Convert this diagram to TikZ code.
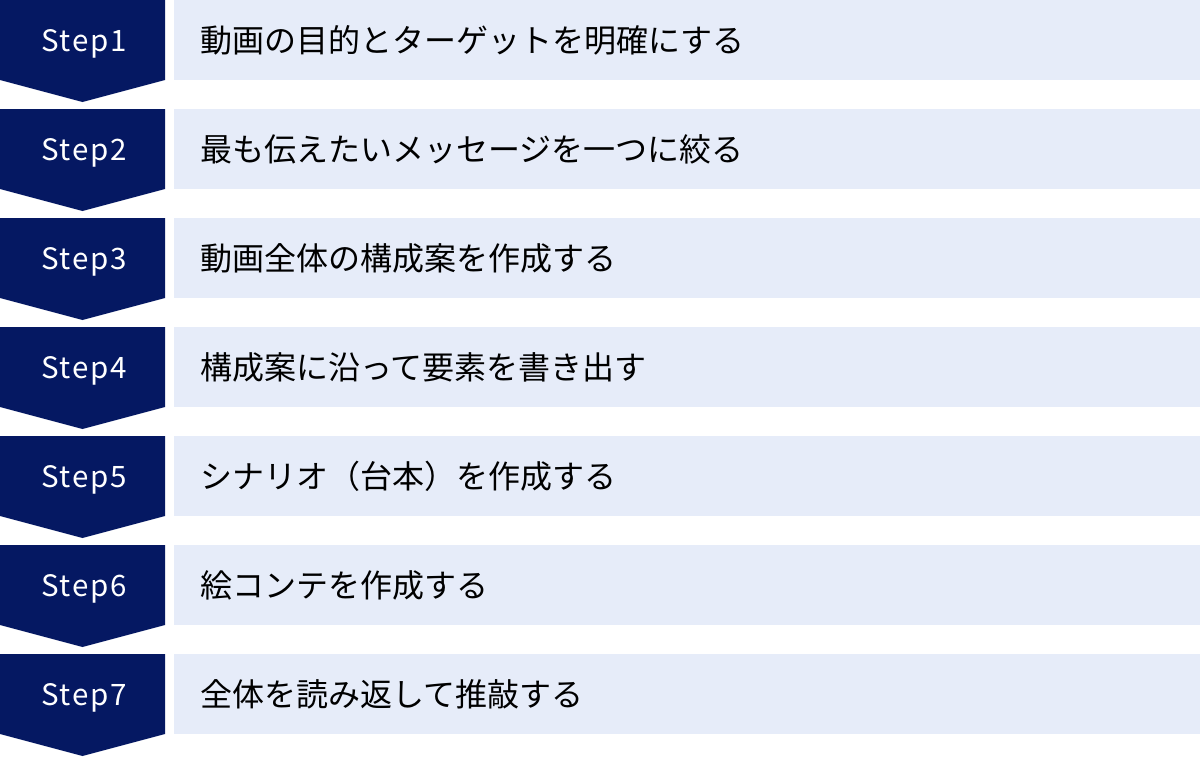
\documentclass[tikz,border=0pt]{standalone}
\usepackage{fontspec}
\setmainfont{Noto Sans CJK JP}
\newfontfamily\steplabelfont[LetterSpace=6]{Noto Sans CJK JP}
\definecolor{stepnavy}{HTML}{051862}
\definecolor{taskblue}{HTML}{E6ECF9}
\begin{document}
\begin{tikzpicture}[x=1pt,y=-1pt]
\tikzset{
  stepshape/.style={fill=stepnavy},
  taskbox/.style={fill=taskblue},
  steplabel/.style={inner sep=0pt,text=white,font=\steplabelfont\fontsize{29.5}{34}\selectfont},
  tasklabel/.style={anchor=west,inner sep=0pt,text=black,font=\fontsize{32}{38}\selectfont}
}
\useasboundingbox (0,0) rectangle (1200,756);
% seven rows, 109 apart
\foreach \i/\task in {1/動画の目的とターゲットを明確にする,
                      2/最も伝えたいメッセージを一つに絞る,
                      3/動画全体の構成案を作成する,
                      4/構成案に沿って要素を書き出す,
                      5/シナリオ（台本）を作成する,
                      6/絵コンテを作成する,
                      7/全体を読み返して推敲する} {
  \pgfmathsetmacro{\rowtop}{(\i-1)*109}
  \fill[stepshape] (0,\rowtop) -- (165,\rowtop) -- (165,\rowtop+80)
    -- (82.5,\rowtop+102) -- (0,\rowtop+80) -- cycle;
  \fill[taskbox] (174,\rowtop) rectangle (1200,\rowtop+80);
  \node[steplabel] (step\i) at (84,\rowtop+44) {Step\i};
  \node[tasklabel] (task\i) at (200,\rowtop+40) {\task};
}
\end{tikzpicture}
\end{document}
